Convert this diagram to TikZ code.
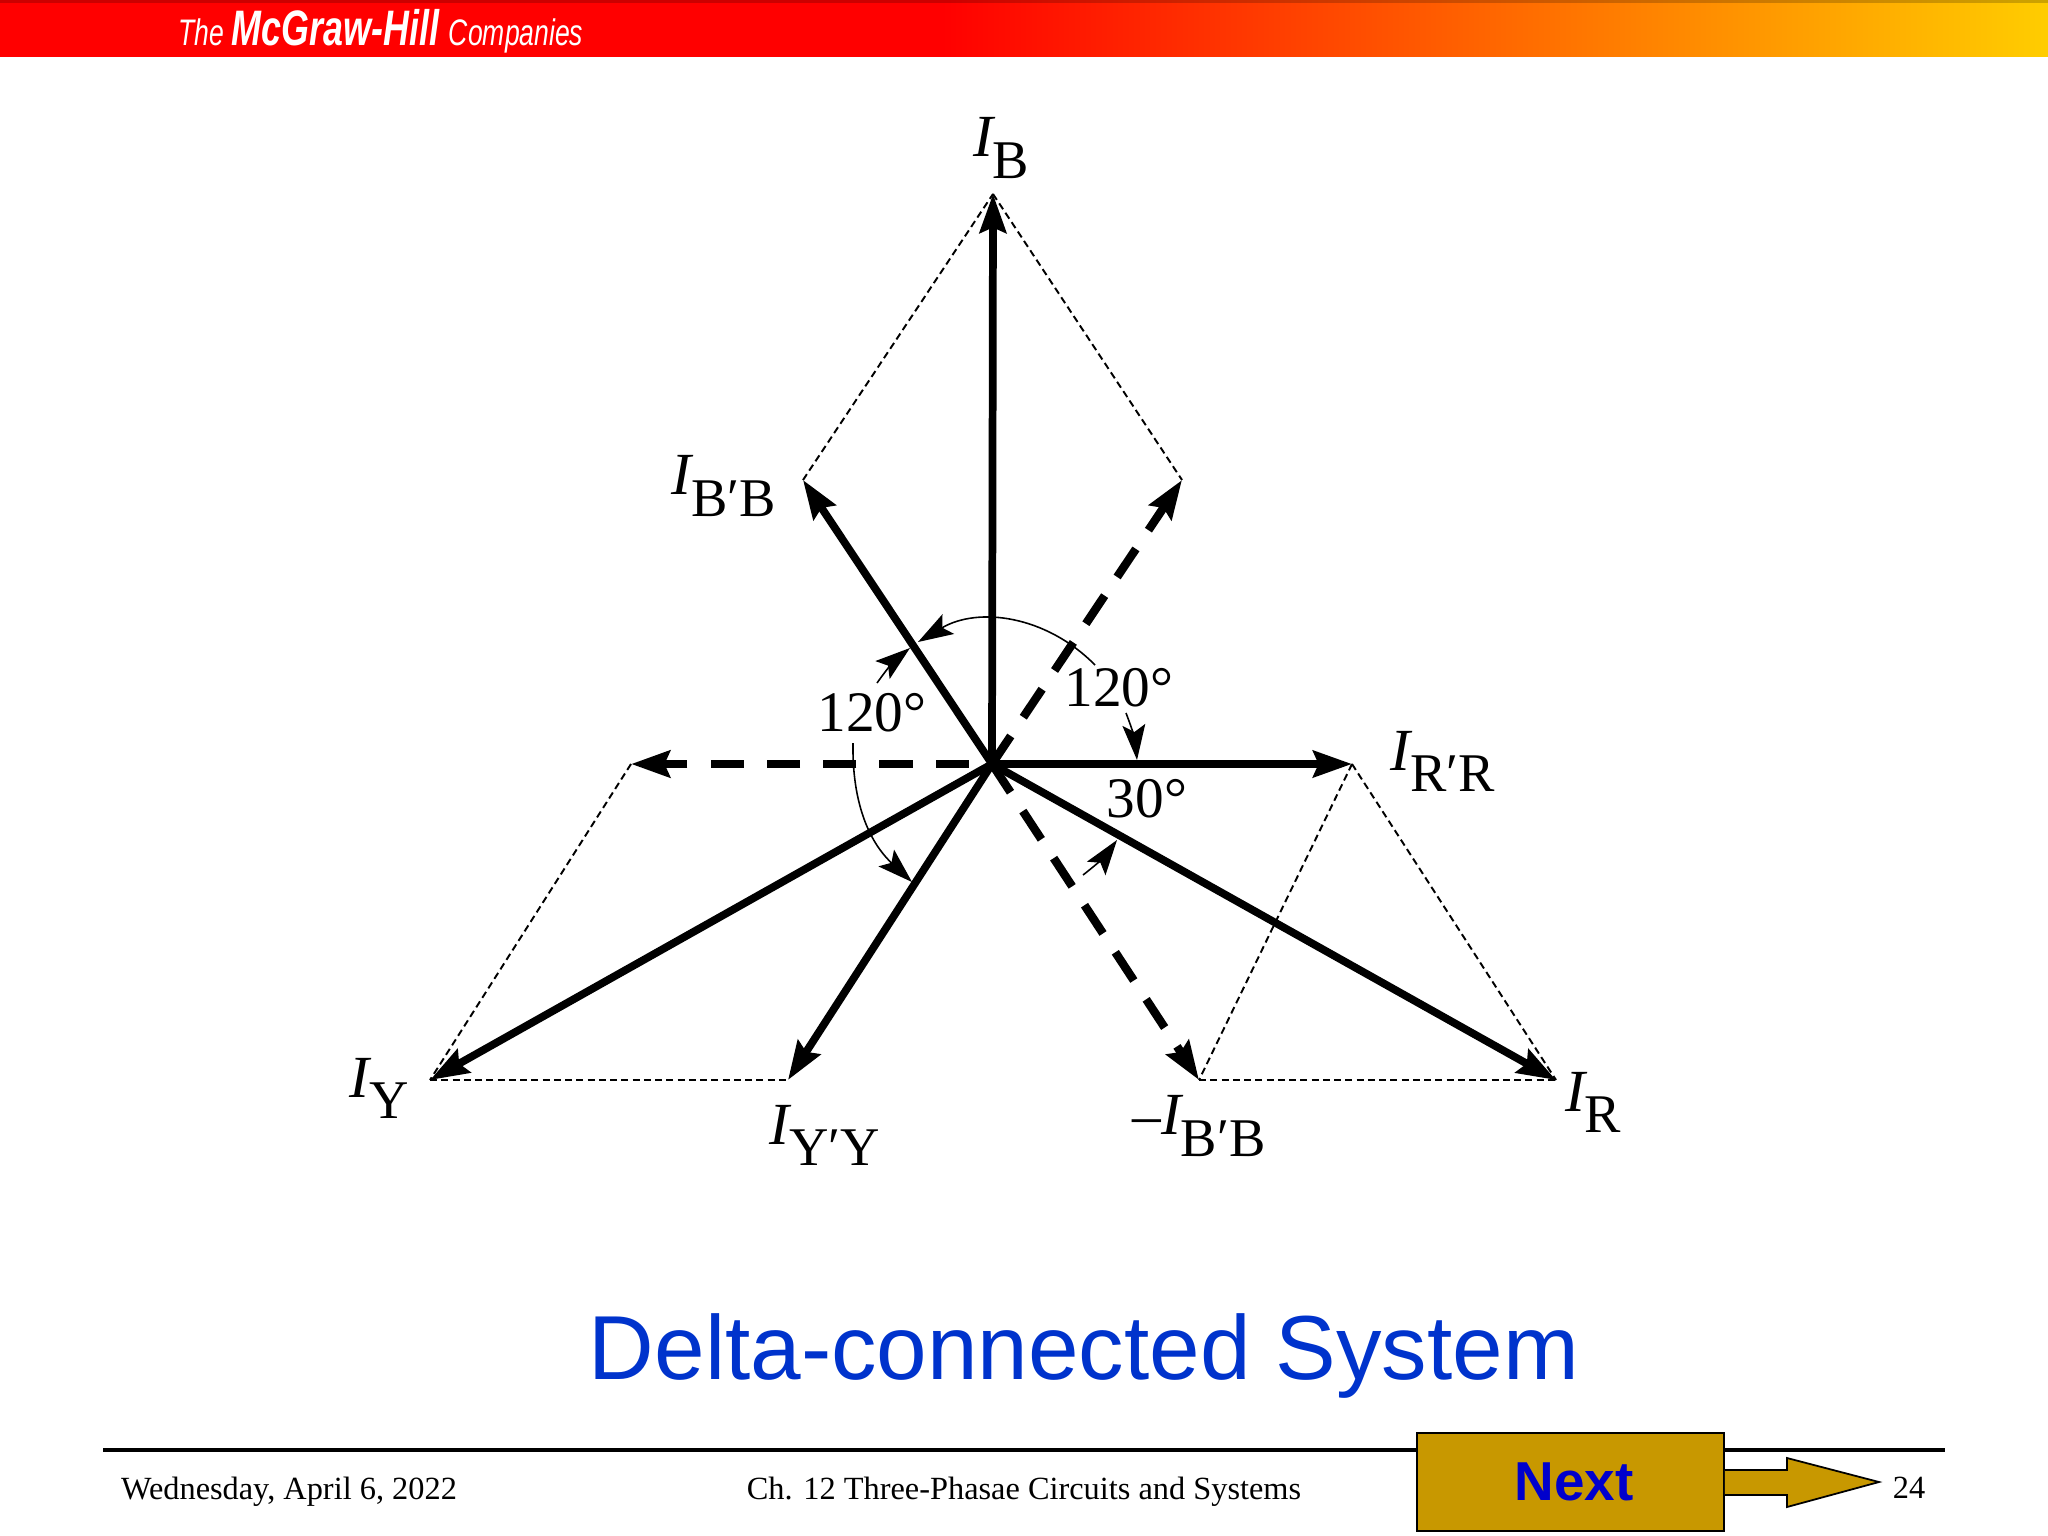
\documentclass[tikz,border=0pt]{standalone}
\usepackage{fontspec}
\setmainfont{Liberation Serif}
\setsansfont{Liberation Sans}
\usetikzlibrary{arrows.meta}
\definecolor{titleblue}{RGB}{0,51,204}
\definecolor{nextgold}{RGB}{200,152,0}
\definecolor{nextblue}{RGB}{0,0,204}
\definecolor{bargold}{RGB}{255,205,0}
\pgfdeclarehorizontalshading{barshade}{100bp}{color(0bp)=(red); color(48bp)=(red); color(75bp)=(bargold); color(100bp)=(bargold)}
\newcommand{\cur}[1]{{\fontsize{17}{18}\selectfont\textit{I}}\kern-0.8pt\raisebox{-6pt}{\fontsize{15.5}{16}\selectfont #1}}
\tikzset{
    phasor/.style={line width=2.2pt, -{Stealth[length=11pt,width=7.5pt,inset=1.5pt]}},
    phasordash/.style={phasor, line width=2.4pt, dash pattern=on 9.6pt off 6.4pt},
    phasorflat/.style={phasor, line width=2.4pt, dash pattern=on 9.4pt off 6.6pt, dash phase=9.4pt},
    guide/.style={line width=0.55pt, dash pattern=on 2pt off 1.2pt},
    angle/.style={line width=0.45pt, -{Stealth[length=10pt,width=6.5pt,inset=2pt]}},
    lab/.style={inner sep=0pt, font=\fontsize{16.3}{18}\selectfont},
    foot/.style={inner sep=0pt, font=\fontsize{9.2}{11}\selectfont}
}
\begin{document}
\begin{tikzpicture}[x=0.01cm,y=-0.01cm]
    \useasboundingbox (0,0) rectangle (2048,1536);
    % top bar
    \shade[shading=barshade] (0,0) rectangle (2048,56);
    \fill[black, opacity=0.2] (0,0) rectangle (2048,3);
    \node[inner sep=0pt, text=white, font=\sffamily] (brand) at (381,31) {\scalebox{0.755}[1.05]{\fontsize{10}{12}\selectfont\itshape The \fontsize{13.5}{14}\selectfont\bfseries McGraw-Hill \fontsize{10}{12}\selectfont\mdseries Companies}};
    % phasor ends
    \coordinate (o) at (992,764);
    \coordinate (ib) at (993,194);
    \coordinate (ibb) at (803,480);
    \coordinate (mbb) at (1182,480);
    \coordinate (irr) at (1352,764);
    \coordinate (ir) at (1556,1080);
    \coordinate (nbb) at (1199,1080);
    \coordinate (iyy) at (788,1080);
    \coordinate (iy) at (430,1080);
    \coordinate (myy) at (631,764);
    % parallelogram sides
    \path [guide] (ibb) edge (ib);
    \path [guide] (ib) edge (mbb);
    \path [guide] (irr) edge (ir);
    \path [guide] (irr) edge (nbb);
    \path [guide] (nbb) edge (ir);
    \path [guide] (myy) edge (iy);
    \path [guide] (iy) edge (iyy);
    % phasors
    \path [phasor] (o) edge (ib);
    \path [phasor] (o) edge (ibb);
    \path [phasor] (o) edge (irr);
    \path [phasor] (o) edge (ir);
    \path [phasor] (o) edge (iyy);
    \path [phasor] (o) edge (iy);
    \path [phasordash] (o) edge (mbb);
    \path [phasorflat] (o) edge (myy);
    \path [phasordash] (o) edge (nbb);
    % angle marks
    \coordinate (a1s) at (1095,665);
    \coordinate (a1e) at (918,642);
    \coordinate (a2s) at (853,743);
    \coordinate (a2e) at (912,882);
    \coordinate (a3s) at (877,683);
    \coordinate (a3e) at (910,648);
    \coordinate (a4s) at (1126,713);
    \coordinate (a4e) at (1137,760);
    \coordinate (a5s) at (1083,875);
    \coordinate (a5e) at (1117,840);
    \draw [angle] (a1s) to[bend right=38] (a1e);
    \draw [angle] (a2s) to[bend right=24] (a2e);
    \draw [angle] (a3s) to[bend left=8] (a3e);
    \draw [angle] (a4s) to[bend left=8] (a4e);
    \draw [angle] (a5s) to[bend right=8] (a5e);
    % labels
    \node[lab] (lib) at (1001,148) {\cur{B}};
    \node[lab] (libb) at (724,486) {\cur{B′B}};
    \node[lab] (lirr) at (1443,761) {\cur{R′R}};
    \node[lab] (lir) at (1593,1102) {\cur{R}};
    \node[lab] (lnbb) at (1199,1126) {–\cur{B′B}};
    \node[lab] (liyy) at (825,1135) {\cur{Y′Y}};
    \node[lab] (liy) at (379,1088) {\cur{Y}};
    \node[lab] (la) at (872,713) {120°};
    \node[lab] (lb) at (1119,688) {120°};
    \node[lab] (lc) at (1147,799) {30°};
    % caption and footer
    \node[inner sep=0pt, text=titleblue, font=\sffamily\fontsize{25.85}{30}\selectfont] (title) at (1084,1356) {Delta-connected System};
    \coordinate (fl) at (103,1450);
    \coordinate (fr) at (1945,1450);
    \draw[line width=1.1pt] (fl) -- (fr);
    \node[foot] (date) at (289,1492) {Wednesday, April 6, 2022};
    \node[foot] (chap) at (1024,1492) {Ch. 12 Three-Phasae Circuits and Systems};
    \node[foot] (page) at (1909,1488) {24};
    \node[draw=black, fill=nextgold, line width=0.5pt, minimum width=3.07cm, minimum height=0.98cm, inner sep=0pt, text=nextblue, font=\sffamily\bfseries\fontsize{15.6}{18}\selectfont] (next) at (1570.5,1482) {\hspace*{0.07cm}Next};
    \draw[fill=nextgold, line width=0.5pt] (next.east |- 0,1470) -- (1787,1470) -- (1787,1458) -- (1879,1482) -- (1787,1507) -- (1787,1495) -- (next.east |- 0,1495);
\end{tikzpicture}
\end{document}
